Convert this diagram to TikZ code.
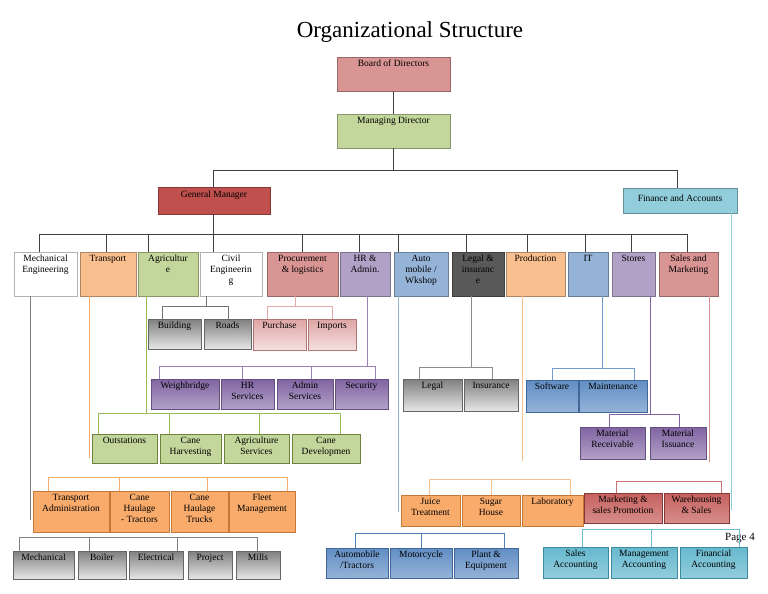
\documentclass[tikz,border=0pt]{standalone}
\usepackage{fontspec}
\setmainfont{Liberation Serif}
\usetikzlibrary{shadows}
\definecolor{myrose}{RGB}{217,149,148}
\definecolor{myred}{RGB}{192,80,77}
\definecolor{mygreen}{RGB}{195,214,155}
\definecolor{mygreendk}{RGB}{155,187,89}
\definecolor{myaqua}{RGB}{146,205,220}
\definecolor{myaquadk}{RGB}{75,172,198}
\definecolor{myorange}{RGB}{250,191,143}
\definecolor{myorangedk}{RGB}{247,150,70}
\definecolor{mypurple}{RGB}{178,161,199}
\definecolor{mypurpledk}{RGB}{128,100,162}
\definecolor{myblue}{RGB}{149,179,215}
\definecolor{mybluedk}{RGB}{79,129,189}
\definecolor{mydark}{RGB}{89,89,89}

\begin{document}
\begin{tikzpicture}[x=1pt,y=-1pt,
  box/.style={rectangle, inner sep=0pt, line width=0.8pt,
    drop shadow={shadow xshift=1.2pt, shadow yshift=-1.2pt, opacity=0.35}},
  flat/.style={box, draw=#1!70!black, fill=#1},
  grayb/.style={box, draw=black!60, top color=black!50, bottom color=black!10},
  roseb/.style={box, draw=myrose!80!black, top color=myrose!85, bottom color=myrose!30},
  purpb/.style={box, draw=mypurpledk!80!black, top color=mypurpledk, bottom color=mypurple},
  blueb/.style={box, draw=mybluedk!80!black, top color=mybluedk!90, bottom color=myblue},
  aquab/.style={box, draw=myaquadk!80!black, top color=myaquadk!85, bottom color=myaqua},
  orngb/.style={box, draw=myorangedk!80!black, fill=myorangedk!80},
  greenb/.style={box, draw=mygreendk!70!black, fill=mygreen},
  redb/.style={box, draw=myred!70!black, top color=myred!90, bottom color=myred!65},
  lbl/.style={anchor=north, yshift=-2.5pt, inner sep=1pt, align=center,
    font=\fontsize{9.5}{11}\selectfont},
  ln/.style={draw=black!75, line width=0.9pt},
  sub/.style={draw=#1, line width=0.9pt}
]
\useasboundingbox (0,0) rectangle (768,594);

\node[font=\fontsize{23}{27}\selectfont] (title) at (410,32) {Organizational Structure};
\node[font=\fontsize{11}{13}\selectfont] (page) at (740,538) {Page 4};

%top levels
\node[flat=myrose, minimum width=113pt, minimum height=34pt, label={[lbl]north:Board of Directors}] (bod) at (393.5,74) {};
\node[flat=mygreen, minimum width=113pt, minimum height=34pt, label={[lbl]north:Managing Director}] (md) at (393.5,131) {};
\node[flat=myred, minimum width=112pt, minimum height=27pt, label={[lbl,yshift=-1pt]north:General Manager}] (gm) at (214,200.5) {};
\node[flat=myaqua, minimum width=114pt, minimum height=25pt, label={[lbl,yshift=-4pt]north:Finance and Accounts}] (fin) at (680,200.5) {};

%departments
\node[flat=white, minimum width=63pt, minimum height=44pt, label={[lbl]north:Mechanical\\Engineering}] (mech) at (45.5,274) {};
\node[flat=myorange, minimum width=56pt, minimum height=44pt, label={[lbl]north:Transport}] (trans) at (108,274) {};
\node[flat=mygreen, minimum width=60pt, minimum height=44pt, label={[lbl]north:Agricultur\\e}] (agri) at (168,274) {};
\node[flat=white, minimum width=62pt, minimum height=44pt, label={[lbl]north:Civil\\Engineerin\\g}] (civil) at (231,274) {};
\node[flat=myrose, minimum width=71pt, minimum height=44pt, label={[lbl]north:Procurement\\\& logistics}] (proc) at (302.5,274) {};
\node[flat=mypurple, minimum width=50pt, minimum height=44pt, label={[lbl]north:HR \&\\Admin.}] (hr) at (365,274) {};
\node[flat=myblue, minimum width=54pt, minimum height=44pt, label={[lbl]north:Auto\\mobile /\\Wkshop}] (auto) at (421,274) {};
\node[flat=mydark, minimum width=52pt, minimum height=44pt, label={[lbl]north:Legal \&\\insuranc\\e}] (legal) at (478,274) {};
\node[flat=myorange, minimum width=59pt, minimum height=44pt, label={[lbl]north:Production}] (prod) at (535.5,274) {};
\node[flat=myblue, minimum width=40pt, minimum height=44pt, label={[lbl]north:IT}] (it) at (588,274) {};
\node[flat=mypurple, minimum width=43pt, minimum height=44pt, label={[lbl]north:Stores}] (stores) at (633.5,274) {};
\node[flat=myrose, minimum width=59pt, minimum height=44pt, label={[lbl]north:Sales and\\Marketing}] (sales) at (688.5,274) {};

%civil and procurement
\node[grayb, minimum width=53pt, minimum height=30pt, label={[lbl]north:Building}] (build) at (174.5,334) {};
\node[grayb, minimum width=47pt, minimum height=30pt, label={[lbl]north:Roads}] (roads) at (227.5,334) {};
\node[roseb, minimum width=53pt, minimum height=31pt, label={[lbl]north:Purchase}] (purch) at (279.5,334.5) {};
\node[roseb, minimum width=48pt, minimum height=31pt, label={[lbl]north:Imports}] (imp) at (332,334.5) {};

%hr
\node[purpb, minimum width=68pt, minimum height=30pt, label={[lbl]north:Weighbridge}] (weigh) at (185,394) {};
\node[purpb, minimum width=53pt, minimum height=30pt, label={[lbl]north:HR\\Services}] (hrs) at (247.5,394) {};
\node[purpb, minimum width=56pt, minimum height=30pt, label={[lbl]north:Admin\\Services}] (adms) at (305,394) {};
\node[purpb, minimum width=53pt, minimum height=30pt, label={[lbl]north:Security}] (secu) at (361.5,394) {};

%agriculture
\node[greenb, minimum width=65pt, minimum height=29pt, label={[lbl]north:Outstations}] (outst) at (124.5,448.5) {};
\node[greenb, minimum width=61pt, minimum height=29pt, label={[lbl]north:Cane\\Harvesting}] (caneh) at (190.5,448.5) {};
\node[greenb, minimum width=65pt, minimum height=29pt, label={[lbl]north:Agriculture\\Services}] (agris) at (256.5,448.5) {};
\node[greenb, minimum width=68pt, minimum height=29pt, label={[lbl]north:Cane\\Developmen}] (caned) at (326,448.5) {};

%transport
\node[orngb, minimum width=76pt, minimum height=41pt, label={[lbl]north:Transport\\Administration}] (tadm) at (71,511.5) {};
\node[orngb, minimum width=59pt, minimum height=41pt, label={[lbl]north:Cane\\Haulage\\- Tractors}] (chtr) at (139.5,511.5) {};
\node[orngb, minimum width=57pt, minimum height=41pt, label={[lbl]north:Cane\\Haulage\\Trucks}] (chtk) at (199.5,511.5) {};
\node[orngb, minimum width=66pt, minimum height=41pt, label={[lbl]north:Fleet\\Management}] (fleet) at (262,511.5) {};

%mechanical
\node[grayb, minimum width=61pt, minimum height=28pt, label={[lbl]north:Mechanical}] (mechd) at (43.5,565) {};
\node[grayb, minimum width=48pt, minimum height=28pt, label={[lbl]north:Boiler}] (boil) at (102,565) {};
\node[grayb, minimum width=54pt, minimum height=28pt, label={[lbl]north:Electrical}] (elec) at (156,565) {};
\node[grayb, minimum width=44pt, minimum height=28pt, label={[lbl]north:Project}] (proj) at (210,565) {};
\node[grayb, minimum width=44pt, minimum height=28pt, label={[lbl]north:Mills}] (mills) at (258,565) {};

%legal, it, stores
\node[grayb, minimum width=59pt, minimum height=32pt, label={[lbl]north:Legal}] (legl) at (432.5,395) {};
\node[grayb, minimum width=54pt, minimum height=32pt, label={[lbl]north:Insurance}] (insu) at (491,395) {};
\node[blueb, minimum width=52pt, minimum height=32pt, label={[lbl]north:Software}] (soft) at (552,396) {};
\node[blueb, minimum width=68pt, minimum height=32pt, label={[lbl]north:Maintenance}] (maint) at (613,396) {};
\node[purpb, minimum width=65pt, minimum height=32pt, label={[lbl]north:Material\\Receivable}] (matr) at (612.5,443) {};
\node[purpb, minimum width=56pt, minimum height=32pt, label={[lbl]north:Material\\Issuance}] (mati) at (678,443) {};

%production, sales
\node[orngb, minimum width=59pt, minimum height=31pt, label={[lbl]north:Juice\\Treatment}] (juice) at (430.5,510.5) {};
\node[orngb, minimum width=58pt, minimum height=31pt, label={[lbl]north:Sugar\\House}] (sugar) at (491,510.5) {};
\node[orngb, minimum width=61pt, minimum height=31pt, label={[lbl]north:Laboratory}] (lab) at (552.5,510.5) {};
\node[redb, minimum width=78pt, minimum height=30pt, label={[lbl]north:Marketing \&\\sales Promotion}] (mktg) at (623,508) {};
\node[redb, minimum width=65pt, minimum height=30pt, label={[lbl]north:Warehousing\\\& Sales}] (wareh) at (696.5,508) {};

%automobile, finance
\node[blueb, minimum width=62pt, minimum height=30pt, label={[lbl]north:Automobile\\/Tractors}] (autot) at (357,563) {};
\node[blueb, minimum width=62pt, minimum height=30pt, label={[lbl]north:Motorcycle}] (moto) at (421,563) {};
\node[blueb, minimum width=64pt, minimum height=30pt, label={[lbl]north:Plant \&\\Equipment}] (plant) at (486,563) {};
\node[aquab, minimum width=65pt, minimum height=31pt, label={[lbl]north:Sales\\Accounting}] (sacc) at (575.5,562.5) {};
\node[aquab, minimum width=66pt, minimum height=31pt, label={[lbl]north:Management\\Accounting}] (macc) at (644,562.5) {};
\node[aquab, minimum width=67pt, minimum height=31pt, label={[lbl]north:Financial\\Accounting}] (facc) at (713.5,562.5) {};

%connectors top
\coordinate (busmd) at (0,170);
\coordinate (busgm) at (0,234);
\draw[ln] (bod.south) -- (md.north);
\draw[ln] (md.south) -- (md.south |- busmd);
\draw[ln] (gm.north -| 213,0) |- (busmd -| 677,0) -- (fin.north -| 677,0);
\draw[ln] (gm.south -| 213,0) -- (civil.north -| 213,0);
\draw[ln] (busgm -| 39,0) -- (busgm -| 687,0);
\foreach \n/\x in {mech/39, trans/106, agri/148, proc/302, hr/359, auto/398, legal/466, prod/527, it/585, stores/631, sales/687}
  \draw[ln] (busgm -| \x,0) -- (\n.north -| \x,0);

%civil
\coordinate (busci) at (0,306);
\draw[sub=black!55] (civil.south -| 206,0) -- (busci -| 206,0);
\draw[sub=black!55] (build.north -| 162,0) |- (busci -| 228,0) -- (roads.north -| 228,0);
%procurement
\draw[sub=myrose!80] (proc.south -| 295,0) -- (busci -| 295,0);
\draw[sub=myrose!80] (purch.north -| 267,0) |- (busci -| 332,0) -- (imp.north -| 332,0);
%hr
\coordinate (bushr) at (0,366);
\draw[sub=mypurpledk!80] (hr.south -| 367,0) -- (bushr -| 367,0);
\draw[sub=mypurpledk!80] (bushr -| 159,0) -- (bushr -| 375,0);
\foreach \n/\x in {weigh/159, hrs/242, adms/311, secu/375}
  \draw[sub=mypurpledk!80] (bushr -| \x,0) -- (\n.north -| \x,0);
%agriculture
\coordinate (busag) at (0,413);
\draw[sub=mygreendk] (agri.south -| 146,0) -- (busag -| 146,0);
\draw[sub=mygreendk] (busag -| 98,0) -- (busag -| 340,0);
\foreach \n/\x in {outst/98, caneh/169, agris/259, caned/340}
  \draw[sub=mygreendk] (busag -| \x,0) -- (\n.north -| \x,0);
%transport
\coordinate (bustr) at (0,477);
\coordinate (trend) at (89,458);
\draw[sub=myorangedk!80] (trans.south -| trend) -- (trend);
\draw[sub=myorangedk!80] (bustr -| 48,0) -- (bustr -| 287,0);
\foreach \n/\x in {tadm/48, chtr/119, chtk/207, fleet/287}
  \draw[sub=myorangedk!80] (bustr -| \x,0) -- (\n.north -| \x,0);
%mechanical
\coordinate (busme) at (0,537);
\coordinate (meend) at (30,520);
\draw[sub=black!50] (mech.south -| meend) -- (meend);
\draw[sub=black!50] (busme -| 19,0) -- (busme -| 257,0);
\foreach \n/\x in {mechd/19, boil/89, elec/177, mills/257}
  \draw[sub=black!50] (busme -| \x,0) -- (\n.north -| \x,0);
%legal
\coordinate (busle) at (0,367);
\draw[sub=black!45] (legal.south -| 471,0) -- (busle -| 471,0);
\draw[sub=black!45] (legl.north -| 419,0) |- (busle -| 492,0) -- (insu.north -| 492,0);
%it
\coordinate (busit) at (0,368);
\draw[sub=mybluedk!80] (it.south -| 602,0) -- (busit -| 602,0);
\draw[sub=mybluedk!80] (soft.north -| 552,0) |- (busit -| 634,0) -- (maint.north -| 634,0);
%stores
\coordinate (busst) at (0,414);
\draw[sub=mypurpledk] (stores.south -| 650,0) -- (busst -| 650,0);
\draw[sub=mypurpledk] (matr.north -| 609,0) |- (busst -| 679,0) -- (mati.north -| 679,0);
%production
\coordinate (buspr) at (0,479);
\coordinate (prend) at (522,461);
\draw[sub=myorange] (prod.south -| prend) -- (prend);
\draw[sub=myorange] (juice.north -| 429,0) |- (buspr -| 570,0) -- (lab.north -| 570,0);
\draw[sub=myorange] (buspr -| 491,0) -- (sugar.north -| 491,0);
%sales
\coordinate (bussa) at (0,481);
\coordinate (saend) at (709,462);
\draw[sub=myrose] (sales.south -| saend) -- (saend);
\draw[sub=myred!80] (mktg.north -| 616,0) |- (bussa -| 721,0) -- (wareh.north -| 721,0);
%automobile
\coordinate (busau) at (0,533);
\coordinate (auend) at (398,512);
\draw[sub=myblue] (auto.south -| auend) -- (auend);
\draw[sub=mybluedk] (autot.north -| 355,0) |- (busau -| 504,0) -- (plant.north -| 504,0);
\draw[sub=mybluedk] (busau -| 421,0) -- (moto.north -| 421,0);
%finance
\coordinate (busfi) at (0,529);
\coordinate (fiend) at (731,510);
\draw[sub=myaqua] (fin.south -| fiend) -- (fiend);
\draw[sub=myaquadk!80] (sacc.north -| 582,0) |- (busfi -| 739,0) -- (facc.north -| 739,0);
\draw[sub=myaquadk!80] (busfi -| 651,0) -- (macc.north -| 651,0);
\end{tikzpicture}
\end{document}
